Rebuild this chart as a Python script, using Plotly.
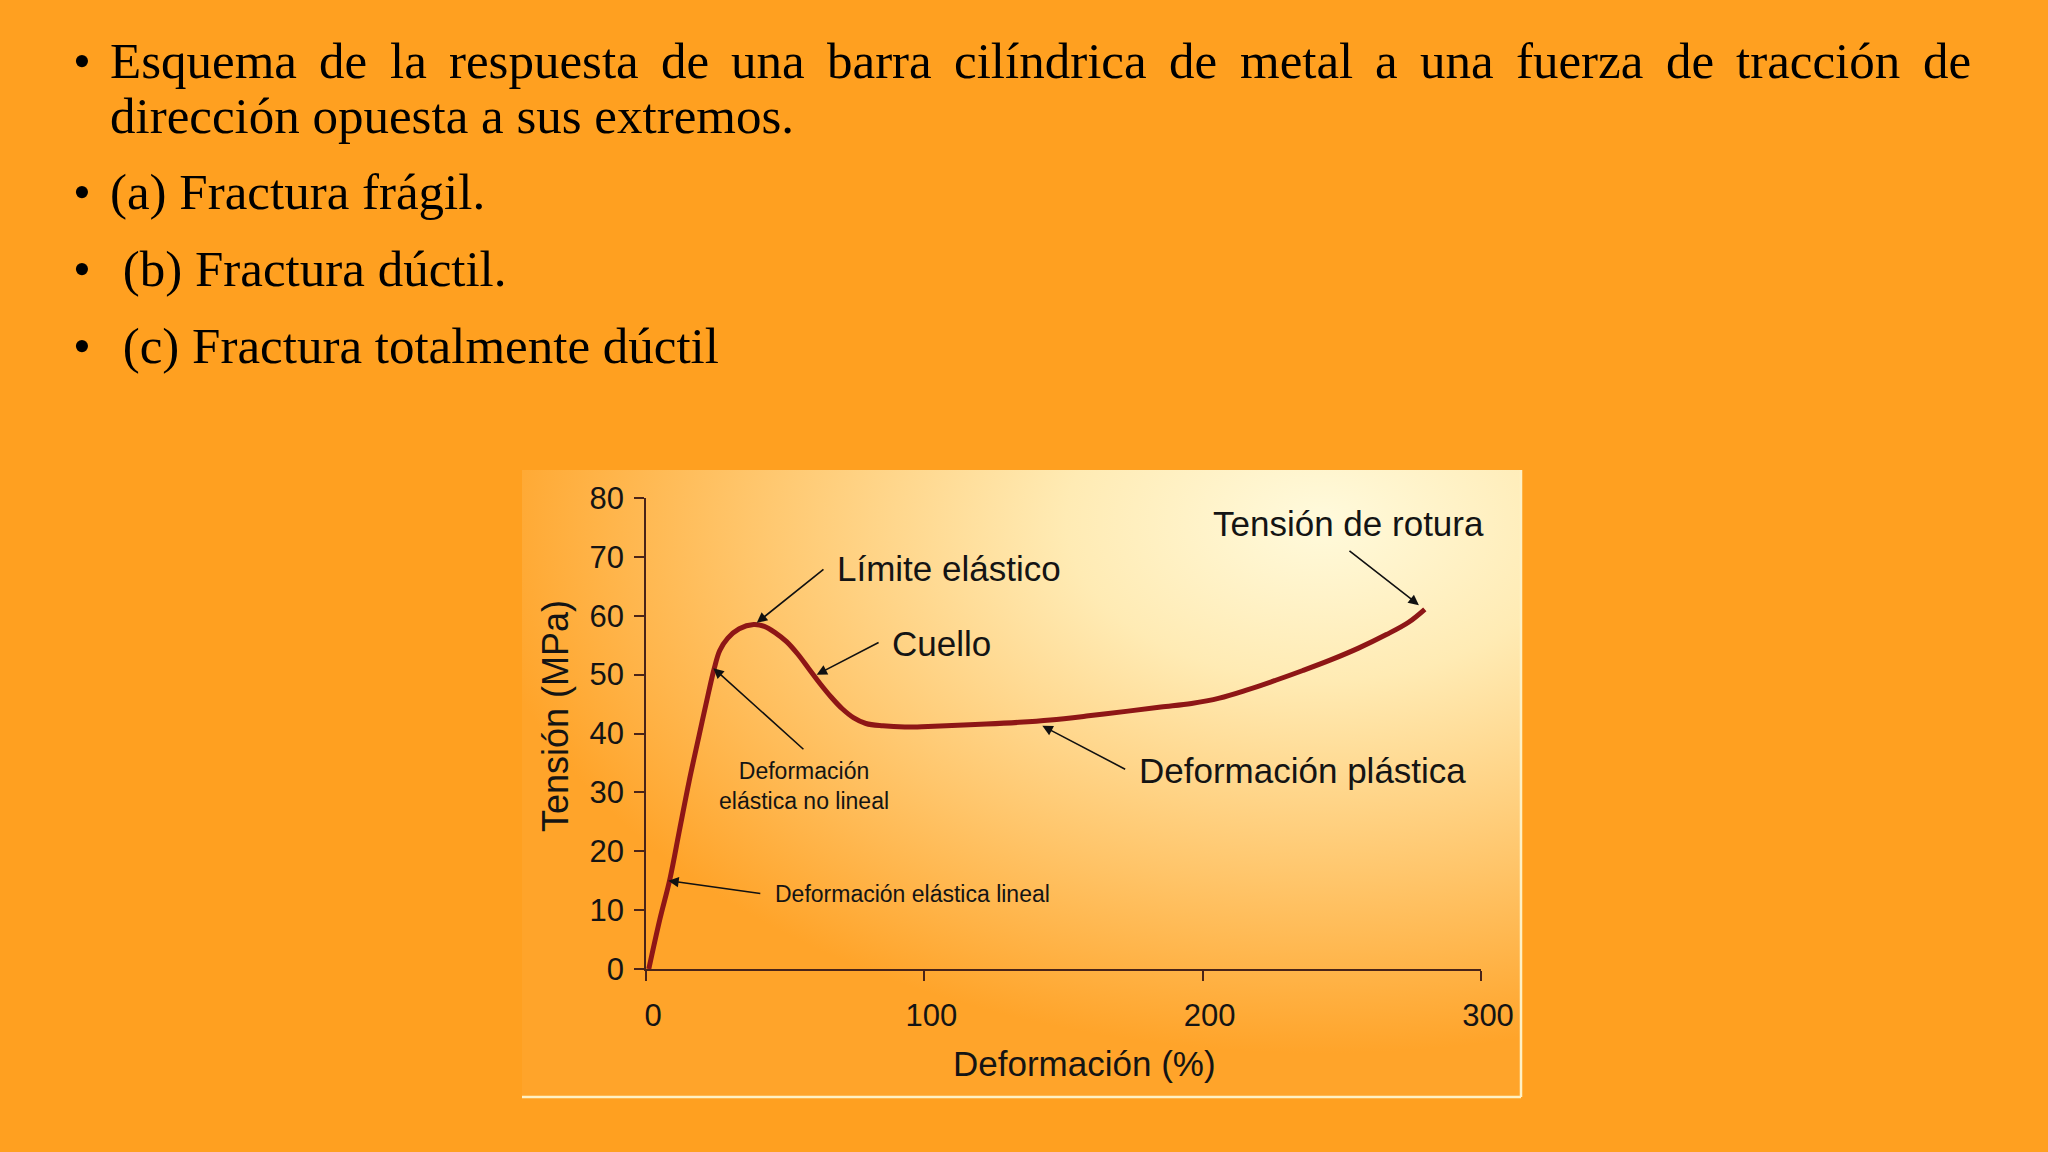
import base64
import plotly.graph_objects as go

# ---------------- data ----------------
strain = [1, 5, 8.6, 12, 15.5, 19, 22.5, 24.5, 26.5, 29.4, 33.5, 38.7, 42.5,
          46.5, 50.5, 54.5, 58.5, 62.5, 66.5, 70.5, 74.5, 79, 85.1, 93, 101.3,
          112, 122.2, 134, 145.3, 159, 173.2, 185, 196, 206, 216, 226, 236,
          246, 256, 266, 274, 279.8]
stress = [0, 8.5, 15.3, 23.5, 31.9, 39.5, 47.0, 51.0, 54.1, 56.2, 57.8, 58.5,
          58.2, 57.1, 55.6, 53.5, 51.0, 48.5, 46.2, 44.2, 42.7, 41.7, 41.3, 41.1,
          41.2, 41.4, 41.6, 41.9, 42.3, 43.0, 43.8, 44.5, 45.1, 46.0, 47.4, 49.0,
          50.7, 52.5, 54.5, 56.8, 58.9, 61.1]
x_ticks = [0, 100, 200, 300]
y_ticks = [0, 10, 20, 30, 40, 50, 60, 70, 80]

x_title = "Deformación (%)"
y_title = "Tensión (MPa)"

big_labels = ["Límite elástico", "Cuello", "Tensión de rotura", "Deformación plástica"]
big_label_x = [67.9, 87.7, 203.0, 176.4]
big_label_y = [68.1, 55.3, 75.75, 33.8]

small_labels = ["Deformación<br>elástica no lineal", "Deformación elástica lineal"]
small_label_x = [56.8, 45.6]
small_label_y = [31.1, 12.7]
small_label_anchor = ["center", "left"]

# arrows: head (x, y) <- tail (ax, ay)
arrow_head_x = [39.8, 61.3, 277.7, 142.4, 24.2, 8.0]
arrow_head_y = [58.8, 50.0, 61.8, 41.3, 51.1, 15.0]
arrow_tail_x = [64.3, 84.1, 252.2, 172.7, 57.1, 41.6]
arrow_tail_y = [68.1, 55.6, 71.2, 33.8, 37.1, 12.8]

line1_words = "Esquema de la respuesta de una barra cilíndrica de metal a una fuerza de tracción de".split()
other_lines = ["dirección opuesta a sus extremos.", "(a) Fractura frágil.",
               " (b) Fractura dúctil.", " (c) Fractura totalmente dúctil"]

# ---------------- layout geometry ----------------
W, H = 2048, 1152
L, R, T, B = 646, 1481, 498, 969   # plot area in px
PW, PH = R - L, B - T


def px(xp):
    return (xp - L) / PW


def py(yp):
    return (B - yp) / PH


SANS = "Liberation Sans, Arial, sans-serif"
SERIF = "Liberation Serif, Times New Roman, serif"
AX_COL = "#4a2418"
TXT = "#141414"

fig = go.Figure()
fig.add_trace(go.Scatter(
    x=strain, y=stress, mode="lines",
    line=dict(color="#8e1616", width=5, shape="spline", smoothing=1.0),
    hoverinfo="skip", showlegend=False))

annotations = []
for t, x, y in zip(big_labels, big_label_x, big_label_y):
    annotations.append(dict(x=x, y=y, xref="x", yref="y", text=t, showarrow=False,
                            xanchor="left", yanchor="middle",
                            font=dict(family=SANS, size=35, color=TXT)))
for t, x, y, a in zip(small_labels, small_label_x, small_label_y, small_label_anchor):
    annotations.append(dict(x=x, y=y, xref="x", yref="y", text=t, showarrow=False,
                            xanchor=a, yanchor="middle", align="center",
                            font=dict(family=SANS, size=23, color=TXT)))
for hx, hy, tx, ty in zip(arrow_head_x, arrow_head_y, arrow_tail_x, arrow_tail_y):
    annotations.append(dict(x=hx, y=hy, ax=tx, ay=ty, xref="x", yref="y",
                            axref="x", ayref="y", text="", showarrow=True,
                            arrowhead=2, arrowsize=1.3, arrowwidth=1.6,
                            arrowcolor="#111111", standoff=0))

# axis titles
annotations.append(dict(x=px(1084), y=py(1063), xref="paper", yref="paper",
                        text=x_title, showarrow=False, xanchor="center", yanchor="middle",
                        font=dict(family=SANS, size=35, color=TXT)))
annotations.append(dict(x=px(555), y=py(716), xref="paper", yref="paper",
                        text=y_title, showarrow=False, xanchor="center", yanchor="middle",
                        textangle=-90, font=dict(family=SANS, size=36, color=TXT)))

# ---------------- slide text ----------------
TNR = {'a': 444, 'b': 500, 'c': 444, 'd': 500, 'e': 444, 'f': 333, 'g': 500,
       'i': 278, 'l': 278, 'm': 778, 'n': 500, 'o': 500, 'p': 500, 'q': 500,
       'r': 333, 's': 389, 't': 278, 'u': 500, 'x': 500, 'z': 444, 'E': 611,
       'í': 278, 'ó': 500, '.': 250, ' ': 250}
FS = 51
line_left, line_right = 110, 1971
word_w = [sum(TNR.get(c, 500) for c in w) * FS / 1000 for w in line1_words]
gap = (line_right - line_left - sum(word_w)) / (len(line1_words) - 1)
xpos = line_left
for w, ww in zip(line1_words, word_w):
    annotations.append(dict(x=px(xpos), y=py(61), xref="paper", yref="paper",
                            text=w, showarrow=False, xanchor="left", yanchor="middle",
                            borderpad=0, borderwidth=0,
                            font=dict(family=SERIF, size=FS, color="black")))
    xpos += ww + gap

line_y = [116, 192, 269, 346]
for t, y in zip(other_lines, line_y):
    annotations.append(dict(x=px(110), y=py(y), xref="paper", yref="paper",
                            text=t.replace(" ", "&nbsp;") if t.startswith(" ") else t,
                            showarrow=False, xanchor="left", yanchor="middle",
                            borderpad=0, borderwidth=0,
                            font=dict(family=SERIF, size=FS, color="black")))
for y in [61, 192, 269, 346]:
    annotations.append(dict(x=px(82), y=py(y), xref="paper", yref="paper",
                            text="•", showarrow=False, xanchor="center", yanchor="middle",
                            font=dict(family=SERIF, size=FS, color="black")))

# ---------------- chart background (gradient box) ----------------
bx0, by0, bx1, by1 = 522, 470, 1521, 1097
svg = ('<svg xmlns="http://www.w3.org/2000/svg" width="1000" height="627" '
       'viewBox="0 0 1000 627" preserveAspectRatio="none"><defs>'
       '<radialGradient id="g" cx="0.8" cy="0.08" r="0.85" fx="0.8" fy="0.08">'
       '<stop offset="0" stop-color="#FFFADC"/>'
       '<stop offset="0.3" stop-color="#FFEBB4"/>'
       '<stop offset="0.68" stop-color="#FFC56A"/>'
       '<stop offset="1" stop-color="#FFA42A"/>'
       '</radialGradient></defs><rect width="1000" height="627" fill="url(#g)"/></svg>')
src = "data:image/svg+xml;base64," + base64.b64encode(svg.encode()).decode()

shapes = [
    dict(type="line", xref="paper", yref="paper", x0=px(bx1), x1=px(bx1),
         y0=py(by0), y1=py(by1), line=dict(color="#FFF1C4", width=2.5)),
    dict(type="line", xref="paper", yref="paper", x0=px(bx0), x1=px(bx1),
         y0=py(by1), y1=py(by1), line=dict(color="#FFF1C4", width=2.5)),
]

axis_common = dict(showline=True, linecolor=AX_COL, linewidth=1.5, ticks="outside",
                   ticklen=10, tickwidth=1.5, tickcolor=AX_COL, showgrid=False,
                   zeroline=False, automargin=False,
                   tickfont=dict(family=SANS, size=31, color=TXT))

fig.update_layout(
    width=W, height=H, autosize=False,
    margin=dict(l=L, r=W - R, t=T, b=H - B, pad=0),
    paper_bgcolor="#FFA020", plot_bgcolor="rgba(0,0,0,0)",
    xaxis=dict(range=[0, 300], tickvals=x_ticks, ticklabelstandoff=8,
               ticklabelshift=7, **axis_common),
    yaxis=dict(range=[0, 80], tickvals=y_ticks, ticklabelstandoff=4,
               **axis_common),
    images=[dict(source=src, xref="paper", yref="paper", x=px(bx0), y=py(by0),
                 sizex=(bx1 - bx0) / PW, sizey=(by1 - by0) / PH,
                 xanchor="left", yanchor="top", sizing="stretch", layer="below")],
    shapes=shapes,
    annotations=annotations,
    showlegend=False,
)

fig.write_html("out.html")
